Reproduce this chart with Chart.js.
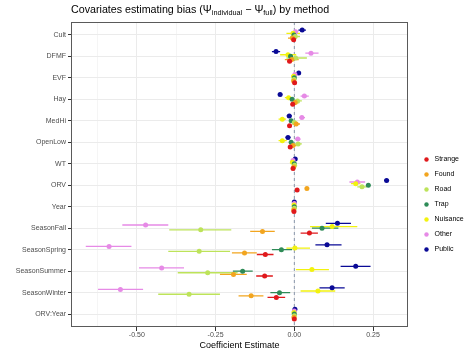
<!DOCTYPE html>
<html><head><meta charset="utf-8">
<script src="https://cdn.jsdelivr.net/npm/chart.js@4/dist/chart.umd.min.js"></script>
<style>
html,body{margin:0;padding:0;background:#fff;}
#wrap{position:relative;width:474px;height:355px;}
#title{position:absolute;left:71px;top:3px;font:10.7px "Liberation Sans",Arial,sans-serif;line-height:13px;color:#000;white-space:nowrap;}
#title sub{font-size:7.3px;vertical-align:baseline;position:relative;top:2px;}
</style></head><body>
<div id="wrap"><canvas id="c" width="474" height="355"></canvas>
<div id="title">Covariates estimating bias (Ψ<sub>individual</sub> − Ψ<sub>full</sub>) by method</div></div>
<script>
const categories = ['Cult','DFMF','EVF','Hay','MedHi','OpenLow','WT','ORV','Year','SeasonFall','SeasonSpring','SeasonSummer','SeasonWinter','ORV:Year'];
const methods = ['Strange','Found','Road','Trap','Nuisance','Other','Public'];
const xMajorTicks = [-0.5,-0.25,0,0.25];
const xMinorTicks = [-0.625,-0.375,-0.125,0.125];

const strangeEst = [-0.002,-0.015,0.001,-0.005,-0.015,-0.013,-0.004,0.009,-0.001,0.048,-0.092,-0.094,-0.057,0.000];
const strangeLo  = [-0.008,-0.022,-0.004,-0.011,-0.021,-0.019,-0.009,0.004,-0.003,0.020,-0.119,-0.121,-0.085,-0.002];
const strangeHi  = [0.004,-0.008,0.006,0.001,-0.009,-0.007,0.001,0.014,0.001,0.075,-0.066,-0.068,-0.029,0.002];

const foundEst = [-0.006,-0.008,-0.002,0.003,0.006,-0.004,-0.002,0.040,-0.002,-0.101,-0.158,-0.193,-0.137,-0.001];
const foundLo  = [-0.020,-0.030,-0.008,-0.010,-0.006,-0.015,-0.006,0.034,-0.004,-0.140,-0.198,-0.236,-0.177,-0.003];
const foundHi  = [0.008,0.014,0.004,0.016,0.018,0.007,0.002,0.046,0.000,-0.062,-0.119,-0.151,-0.098,0.001];

const roadEst = [0.003,0.004,-0.001,0.010,0.000,0.012,0.001,0.215,0.000,-0.297,-0.302,-0.275,-0.334,0.000];
const roadLo  = [-0.012,-0.025,-0.008,-0.003,-0.010,0.000,-0.004,0.200,-0.002,-0.397,-0.400,-0.370,-0.432,-0.002];
const roadHi  = [0.018,0.040,0.006,0.024,0.010,0.024,0.006,0.230,0.002,-0.200,-0.204,-0.180,-0.236,0.002];

const trapEst = [-0.001,-0.012,0.000,-0.007,-0.010,-0.010,0.000,0.235,0.000,0.088,-0.041,-0.164,-0.047,0.000];
const trapLo  = [-0.008,-0.020,-0.004,-0.013,-0.016,-0.016,-0.004,0.229,-0.002,0.056,-0.071,-0.195,-0.076,-0.002];
const trapHi  = [0.006,-0.004,0.004,-0.001,-0.004,-0.004,0.004,0.241,0.002,0.140,-0.007,-0.132,-0.013,0.002];

const nuisanceEst = [-0.004,-0.020,-0.002,-0.018,-0.038,-0.038,-0.006,0.195,-0.001,0.120,0.002,0.056,0.075,-0.001];
const nuisanceLo  = [-0.025,-0.045,-0.010,-0.030,-0.050,-0.050,-0.012,0.180,-0.003,0.050,-0.025,0.005,0.020,-0.003];
const nuisanceHi  = [0.018,0.006,0.006,-0.006,-0.026,-0.024,0.000,0.210,0.001,0.200,0.050,0.110,0.130,0.001];

const otherEst = [0.004,0.053,0.002,0.032,0.024,0.011,-0.004,0.200,0.000,-0.472,-0.588,-0.421,-0.552,0.000];
const otherLo  = [-0.005,0.035,-0.003,0.020,0.016,0.002,-0.010,0.175,-0.002,-0.546,-0.662,-0.493,-0.623,-0.002];
const otherHi  = [0.013,0.077,0.007,0.046,0.034,0.020,0.002,0.225,0.002,-0.400,-0.517,-0.350,-0.480,0.002];

const publicEst = [0.025,-0.058,0.014,-0.045,-0.016,-0.020,0.003,0.293,0.000,0.137,0.104,0.195,0.120,0.002];
const publicLo  = [0.013,-0.071,0.008,-0.052,-0.024,-0.028,-0.002,0.285,-0.002,0.100,0.067,0.147,0.080,0.000];
const publicHi  = [0.037,-0.045,0.020,-0.038,-0.008,-0.012,0.008,0.301,0.002,0.180,0.150,0.242,0.160,0.004];

const seriesEst = [strangeEst,foundEst,roadEst,trapEst,nuisanceEst,otherEst,publicEst];
const seriesLo  = [strangeLo,foundLo,roadLo,trapLo,nuisanceLo,otherLo,publicLo];
const seriesHi  = [strangeHi,foundHi,roadHi,trapHi,nuisanceHi,otherHi,publicHi];
const colors = ['#E0191C','#F2A51F','#BDE35A','#2E8B57','#F2F20F','#E68AE6','#0A0A96'];
const zeroRef = 0;

const dodgeStep = 0.075;
const datasets = [];
methods.forEach((m,k)=>{
  const off = (3 - k) * dodgeStep;
  datasets.push({
    label: m, order: 1,
    data: categories.map((c,i)=>({x: seriesEst[k][i], y: i + off})),
    backgroundColor: colors[k], borderWidth: 0, pointRadius: 2.5, showLine: false
  });
});
methods.forEach((m,k)=>{
  const off = (3 - k) * dodgeStep;
  const d = [];
  categories.forEach((c,i)=>{
    d.push({x: seriesLo[k][i], y: i + off});
    d.push({x: seriesHi[k][i], y: i + off});
    d.push({x: NaN, y: NaN});
  });
  datasets.push({
    label: m + ' CI', order: 2, isCI: true,
    data: d, showLine: true, spanGaps: false, pointRadius: 0,
    borderColor: colors[k], borderWidth: 1.3, backgroundColor: colors[k]
  });
});

const FONT = '"Liberation Sans", Arial, sans-serif';

const panelPlugin = {
  id: 'panel',
  beforeDatasetsDraw(chart){
    const {ctx, chartArea:a, scales} = chart;
    const x = scales.x.getPixelForValue(zeroRef);
    ctx.save();
    ctx.strokeStyle = '#7D8CA3'; ctx.lineWidth = 0.9; ctx.setLineDash([3,3]);
    ctx.beginPath(); ctx.moveTo(x, a.top); ctx.lineTo(x, a.bottom); ctx.stroke();
    ctx.restore();
  },
  afterDatasetsDraw(chart){
    const {ctx, chartArea:a} = chart;
    ctx.save();
    ctx.strokeStyle = '#5a5a5a'; ctx.lineWidth = 1;
    ctx.strokeRect(Math.round(a.left)-0.5, Math.round(a.top)+0.5, Math.round(a.right-a.left)+1, Math.round(a.bottom-a.top)-1);
    ctx.restore();
  },
  afterDraw(chart){
    const {ctx, chartArea:a} = chart;
    const pts = chart.data.datasets.filter(d=>!d.isCI);
    const step = 15;
    const cy = (a.top + a.bottom)/2 + 30;
    const y0 = cy - step*(pts.length-1)/2;
    const dotX = a.right + 19.5;
    ctx.save();
    ctx.font = '7px ' + FONT;
    ctx.textBaseline = 'middle';
    ctx.textAlign = 'left';
    pts.forEach((d,k)=>{
      const y = y0 + k*step;
      ctx.fillStyle = d.backgroundColor;
      ctx.beginPath(); ctx.arc(dotX, y, 2.2, 0, Math.PI*2); ctx.fill();
      ctx.fillStyle = '#000';
      ctx.fillText(d.label, dotX + 8, y);
    });
    ctx.restore();
  }
};

new Chart(document.getElementById('c'), {
  type: 'scatter',
  data: { datasets },
  options: {
    responsive: false, animation: false, events: [],
    layout: { padding: { left: 0, top: 22, right: 67, bottom: 0 } },
    plugins: { legend: { display: false }, tooltip: { enabled: false }, title: { display: false } },
    scales: {
      x: {
        type: 'linear', min: -0.7057, max: 0.3578,
        afterBuildTicks(s){ s.ticks = xMinorTicks.concat(xMajorTicks).sort((p,q)=>p-q).map(v=>({value:v})); },
        afterFit(s){ s.height = 28; },
        border: { display: false },
        grid: {
          color: '#EBEBEB',
          lineWidth: c => xMajorTicks.includes(c.tick && c.tick.value) ? 1 : 0.5,
          tickColor: c => xMajorTicks.includes(c.tick && c.tick.value) ? '#333333' : 'rgba(0,0,0,0)',
          tickLength: 4, drawTicks: true
        },
        ticks: {
          autoSkip: false, maxRotation: 0, padding: 0, color: '#4D4D4D',
          font: { size: 7, family: FONT },
          callback: v => xMajorTicks.includes(v) ? v.toFixed(2) : ''
        },
        title: { display: true, text: 'Coefficient Estimate', color: '#000', font: { size: 9, family: FONT }, padding: { top: 0, bottom: 4 } }
      },
      y: {
        type: 'linear', reverse: true, min: -0.6, max: categories.length - 0.4,
        afterBuildTicks(s){ s.ticks = categories.map((c,i)=>({value:i})); },
        afterFit(s){ s.width = 72; },
        border: { display: false },
        grid: { color: '#EBEBEB', lineWidth: 1, tickColor: '#333333', tickLength: 4, drawTicks: true },
        ticks: {
          autoSkip: false, padding: 2, color: '#4D4D4D',
          font: { size: 7, family: FONT },
          callback: v => categories[v]
        }
      }
    }
  },
  plugins: [panelPlugin]
});
</script>
</body></html>
